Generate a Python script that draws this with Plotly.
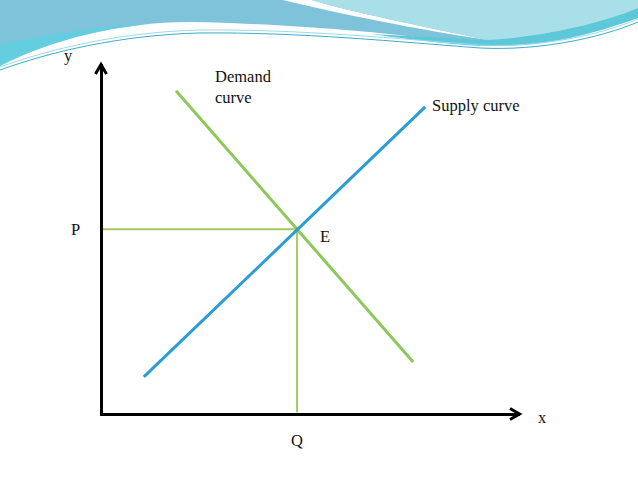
import plotly.graph_objects as go

# demand / supply lines (chart units, axes run 0..10)
demand_x = [1.76, 7.44]
demand_y = [9.23, 1.45]
supply_x = [0.99, 7.73]
supply_y = [1.02, 8.77]
eq_q = 4.66
eq_p = 5.26

W, H = 638, 478


def px(x):
    return x / W


def py(y):
    return 1 - y / H


def path(cmds):
    # cmds: list of (letter, [x, y, ...]) in pixels -> paper coords, one segment each
    out = []
    for c, pts in cmds:
        if c == "Z":
            out.append("Z")
            continue
        xy = []
        for i in range(0, len(pts), 2):
            xy.append(f"{px(pts[i]):.4f},{py(pts[i + 1]):.4f}")
        out.append(c + " " + " ".join(xy))
    return " ".join(out)


fig = go.Figure()

# P and Q guide lines
fig.add_trace(go.Scatter(x=[0, eq_q], y=[eq_p, eq_p], mode="lines",
                         line=dict(color="#a6c960", width=2), hoverinfo="skip"))
fig.add_trace(go.Scatter(x=[eq_q, eq_q], y=[0, eq_p], mode="lines",
                         line=dict(color="#a6c960", width=2), hoverinfo="skip"))
# demand and supply
fig.add_trace(go.Scatter(x=demand_x, y=demand_y, mode="lines",
                         line=dict(color="#8cc85a", width=3), name="Demand curve"))
fig.add_trace(go.Scatter(x=supply_x, y=supply_y, mode="lines",
                         line=dict(color="#2a9dd6", width=3), name="Supply curve"))

# slide header swoosh
shapes = [
    # base blue band
    dict(type="path", xref="paper", yref="paper", line_width=0, fillcolor="#7fc3db",
         path=path([("M", [0, 66]), ("C", [50, 40, 120, 22, 190, 22]),
                    ("C", [300, 24, 400, 34, 480, 45]),
                    ("C", [540, 50, 600, 32, 638, 18]),
                    ("L", [638, 0]), ("L", [0, 0]), ("Z", [])])),
    # brighter cyan lower left
    dict(type="path", xref="paper", yref="paper", line_width=0, fillcolor="#5fd0e1",
         opacity=0.85,
         path=path([("M", [0, 66]), ("C", [40, 45, 90, 30, 150, 24]),
                    ("C", [90, 27, 40, 36, 0, 44]), ("Z", [])])),
    # teal band on the right
    dict(type="path", xref="paper", yref="paper", line_width=0, fillcolor="#5cc8d9",
         path=path([("M", [370, 34]), ("C", [430, 42, 470, 47, 500, 46]),
                    ("C", [560, 44, 600, 30, 638, 18]),
                    ("L", [638, 8]), ("C", [600, 24, 540, 37, 485, 40]),
                    ("Z", [])])),
    # white swoosh
    dict(type="path", xref="paper", yref="paper", line_width=0, fillcolor="white",
         path=path([("M", [283, 0]), ("L", [312, 0]),
                    ("C", [340, 9, 400, 22, 488, 40]),
                    ("C", [420, 30, 340, 14, 283, 0]), ("Z", [])])),
    # light cyan upper right
    dict(type="path", xref="paper", yref="paper", line_width=0, fillcolor="#a8dfe9",
         path=path([("M", [312, 0]), ("L", [638, 0]), ("L", [638, 8]),
                    ("C", [600, 24, 540, 37, 488, 40]),
                    ("C", [400, 22, 340, 9, 312, 0]), ("Z", [])])),
    # thin lines
    dict(type="path", xref="paper", yref="paper", line=dict(color="#3aaec6", width=1),
         path=path([("M", [0, 70]), ("C", [50, 52, 120, 35, 200, 33]),
                    ("C", [300, 32, 400, 42, 480, 48]),
                    ("C", [540, 51, 600, 38, 638, 22])])),
    dict(type="path", xref="paper", yref="paper", line=dict(color="#9fd9e6", width=1),
         path=path([("M", [0, 67]), ("C", [50, 49, 120, 32, 200, 30]),
                    ("C", [300, 29, 400, 39, 480, 45]),
                    ("C", [540, 48, 600, 35, 638, 19])])),
    # axis arrowheads
    dict(type="path", xref="paper", yref="paper", line=dict(color="black", width=3),
         path=path([("M", [95.5, 74]), ("L", [101, 64.5]), ("L", [106.5, 74])])),
    dict(type="path", xref="paper", yref="paper", line=dict(color="black", width=3),
         path=path([("M", [510, 408.5]), ("L", [519.5, 414]), ("L", [510, 419.5])])),
]

font = dict(family="Liberation Serif, Times New Roman, serif", size=16.5, color="#111111")
lab = dict(showarrow=False, xanchor="center", yanchor="middle")
annotations = [
    dict(text="y", xref="paper", yref="paper", x=px(68), y=py(56), **lab),
    dict(text="Demand<br>curve", xref="paper", yref="paper", x=px(213), y=py(87),
         showarrow=False, xanchor="left", yanchor="middle", align="left"),
    dict(text="Supply curve", xref="paper", yref="paper", x=px(430), y=py(105),
         showarrow=False, xanchor="left", yanchor="middle"),
    dict(text="P", xref="paper", yref="y", x=px(75), y=eq_p, **lab),
    dict(text="E", xref="paper", yref="paper", x=px(325), y=py(236), **lab),
    dict(text="Q", xref="x", yref="paper", x=eq_q, y=py(440), **lab),
    dict(text="x", xref="paper", yref="paper", x=px(542), y=py(417), **lab),
]

fig.update_layout(
    width=W, height=H,
    margin=dict(l=0, r=0, t=0, b=0),
    paper_bgcolor="white", plot_bgcolor="rgba(0,0,0,0)",
    showlegend=False,
    font=font,
    shapes=shapes,
    annotations=annotations,
    xaxis=dict(domain=[102.5 / W, 520 / W], range=[0, 10], showline=True,
               linecolor="black", linewidth=3, showgrid=False, zeroline=False,
               showticklabels=False, ticks="", fixedrange=True),
    yaxis=dict(domain=[1 - 412.5 / H, 1 - 64 / H], range=[0, 10], showline=True,
               linecolor="black", linewidth=3, showgrid=False, zeroline=False,
               showticklabels=False, ticks="", fixedrange=True),
)

fig.write_html("out.html", config={"displayModeBar": False},
               post_script="document.body.style.margin='0px';")
